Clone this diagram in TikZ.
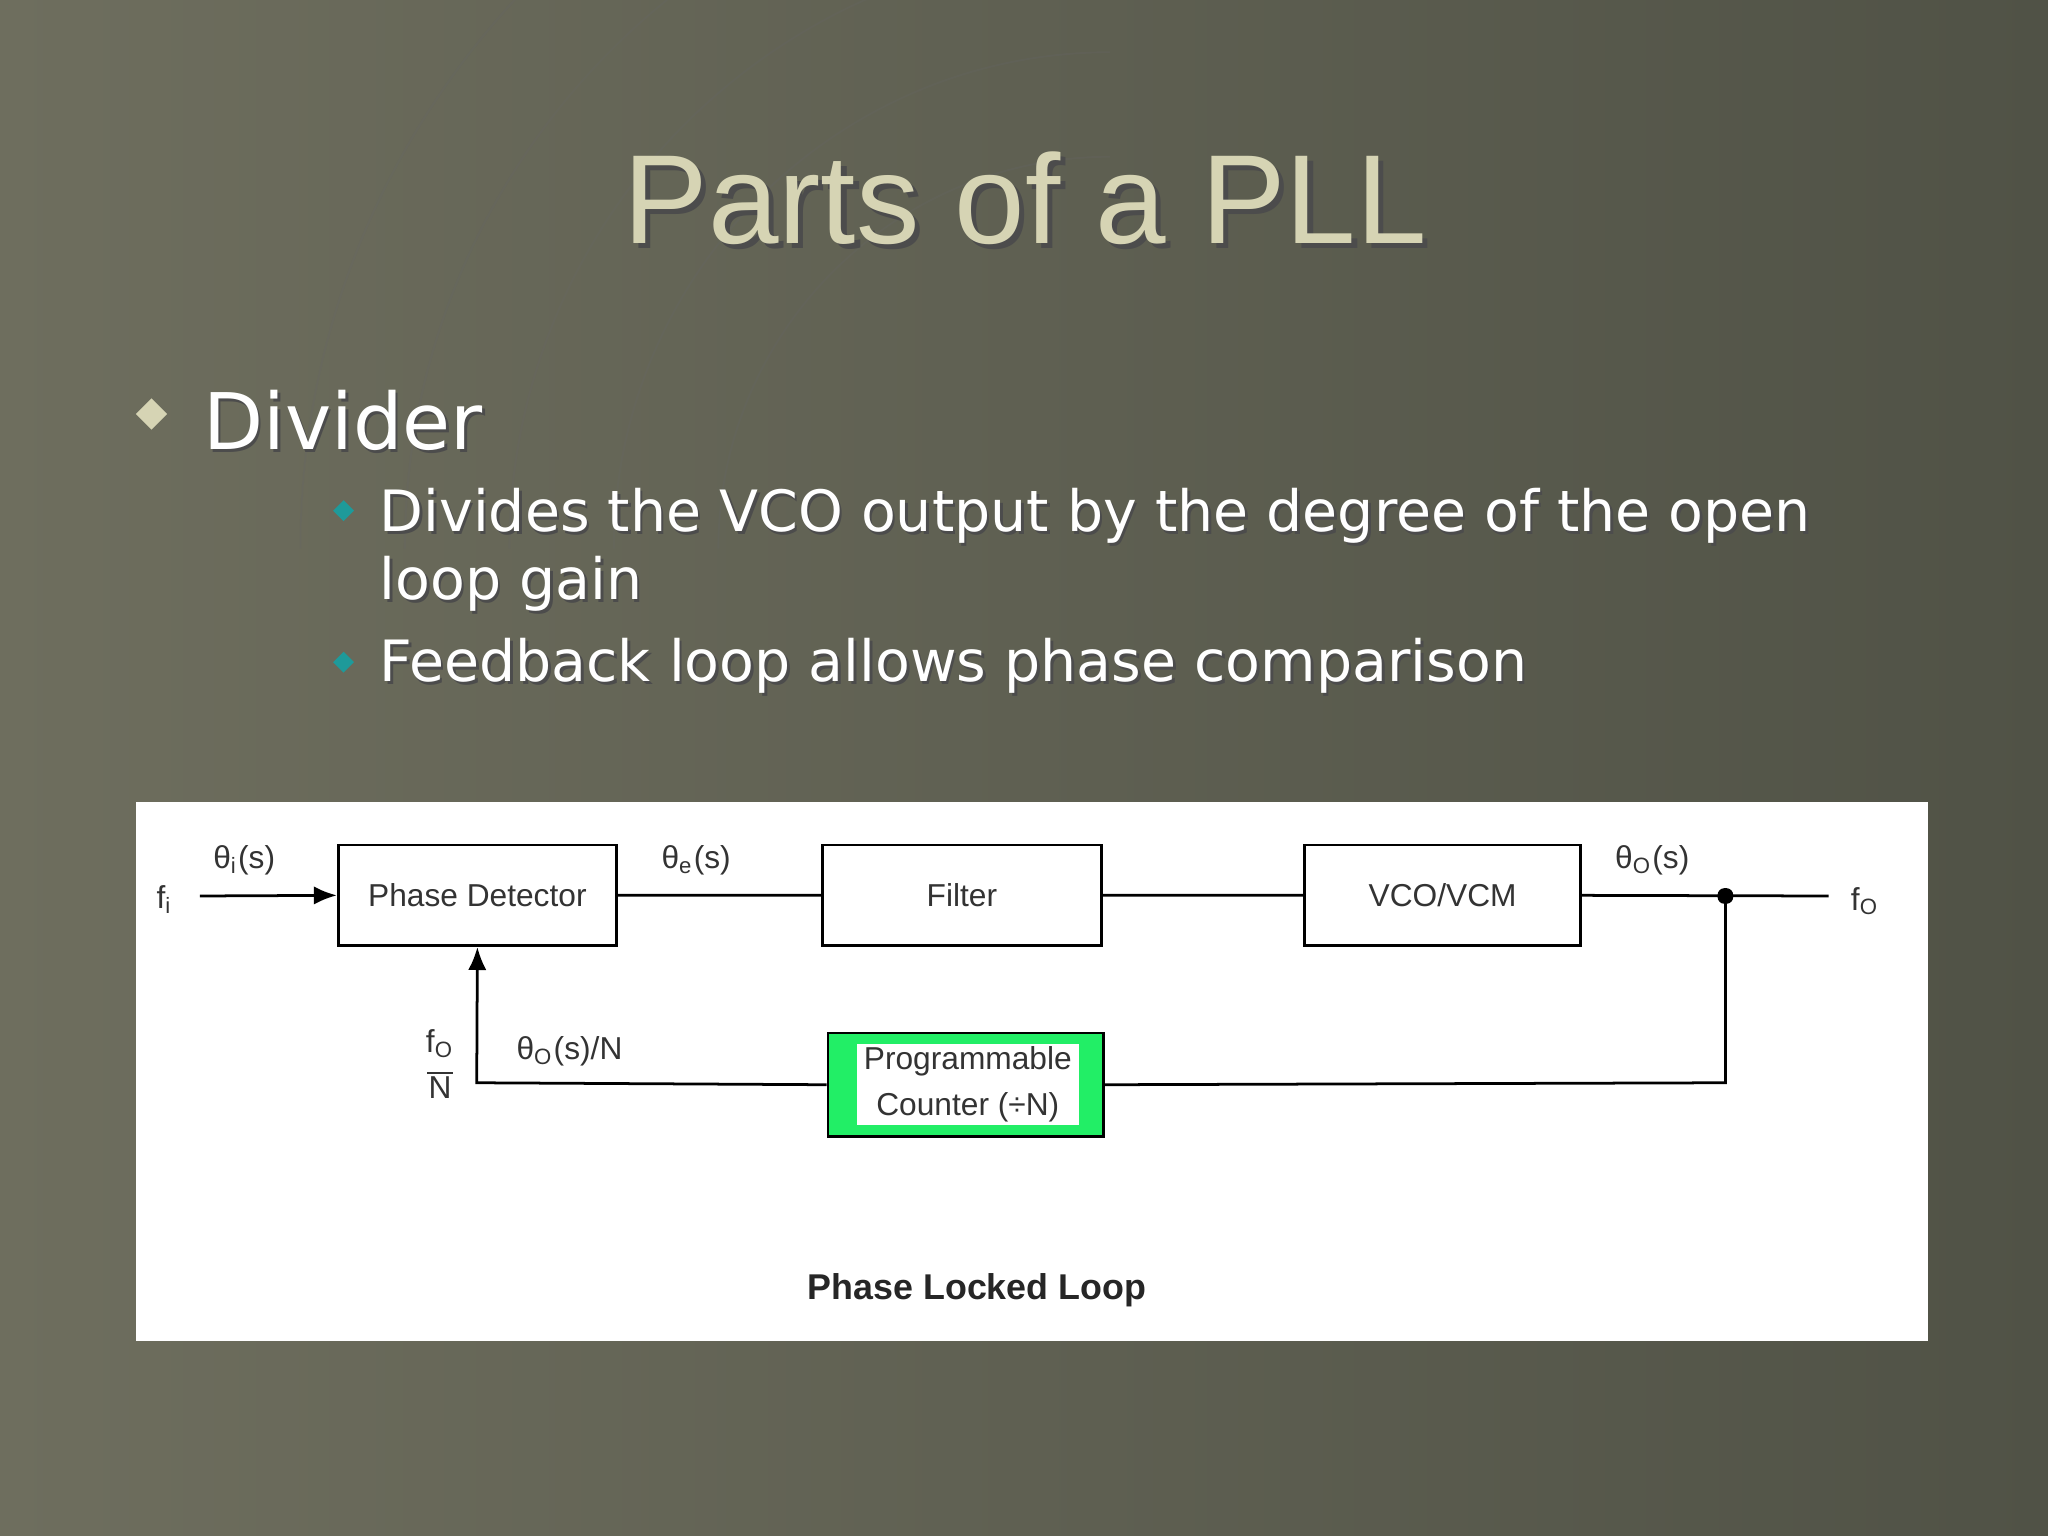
\documentclass[tikz,border=0pt]{standalone}
\usepackage{fontspec}
\setmainfont{Liberation Sans}
\newfontfamily\verd{DejaVu Sans}
\usetikzlibrary{arrows.meta,shadings,calc}
\definecolor{bgA}{HTML}{6E6E5E}
\definecolor{bgB}{HTML}{505246}
\definecolor{titlec}{HTML}{D6D4B4}
\definecolor{bulc}{HTML}{1E9A9A}
\definecolor{grn}{HTML}{22EE66}
\tikzset{blk/.style={draw=black,line width=0.6pt,minimum width=2.13cm,minimum height=0.77cm,inner sep=0pt,font=\fontsize{6.9}{8.5}\selectfont,text=black!80},
 wire/.style={line width=0.6pt,black},
 lbl/.style={font=\fontsize{6.9}{8.5}\selectfont,text=black!80,inner sep=0pt}}
\begin{document}
\begin{tikzpicture}[x=0.01cm,y=-0.01cm]
\useasboundingbox (0,0) rectangle (1568,1176);
\shade[left color=bgA,right color=bgB] (0,0) rectangle (1568,1176);
\foreach \r in {300,380,460,540,620}{\draw[black!60,opacity=0.25] (850,420) ++(180:\r) arc[start angle=180,end angle=270,radius=\r];}
% title
\node[text=black!70] at (789,156) {\fontsize{27.6}{34}\selectfont Parts of a PLL};
\node[text=titlec] (title) at (785,152) {\fontsize{27.6}{34}\selectfont Parts of a PLL};
% bullets
\node[text=black!70,anchor=west,inner sep=0pt] at (157,324) {\verd\fontsize{17}{20}\selectfont Divider};
\node[text=white,anchor=west,inner sep=0pt] (b1) at (155,322) {\verd\fontsize{17}{20}\selectfont Divider};
\fill[titlec] (116,305) -- (128,317) -- (116,329) -- (104,317) -- cycle;
\fill[bulc] (263,383) -- (271,391) -- (263,399) -- (255,391) -- cycle;
\fill[bulc] (263,499) -- (271,507) -- (263,515) -- (255,507) -- cycle;
\begin{scope}[every node/.style={anchor=west,inner sep=0pt,align=left,font=\verd\fontsize{12.4}{14.8}\selectfont}]
\node[text=black!70] at (292,423) {Divides the VCO output by the degree of the open\\loop gain};
\node[text=white] (b2) at (290,421) {Divides the VCO output by the degree of the open\\loop gain};
\node[text=black!70] at (292,512) {Feedback loop allows phase comparison};
\node[text=white] (b3) at (290,510) {Feedback loop allows phase comparison};
\end{scope}
% diagram
\fill[white] (104,614) rectangle (1476,1027);
\node[blk] (pd) at (365.5,685.5) {Phase Detector};
\node[blk] (fil) at (736.5,685.5) {Filter};
\node[blk,minimum width=2.11cm] (vco) at (1104.5,685.5) {VCO/VCM};
\node[draw=black,line width=0.6pt,fill=grn,minimum width=2.11cm,minimum height=0.79cm,inner sep=0pt] (pc) at (739.5,830.5) {};
\node[fill=white,minimum width=1.7cm,minimum height=0.62cm,inner sep=0pt,align=center,font=\fontsize{6.9}{10}\selectfont,text=black!80] at (741,830.5) {Programmable\\Counter (÷N)};
\node[lbl] (fi) at (126,689) {f\textsubscript{i}};
\coordinate (fin) at (153,686);
\coordinate (fout) at (1400,686);
\node[lbl] (fo) at (1428,690) {f\textsubscript{O}};
\coordinate (dot) at (1321,686);
\coordinate (cr) at (1321,829);
\coordinate (cl) at (365,829);
\draw[wire,-{Latex[length=5pt,width=4pt]}] (fin) -- (pd.west);
\draw[wire] (pd) -- (fil) (fil) -- (vco) (vco.east) -- (fout);
\fill[rounded corners=1.5pt] ($(dot)+(-6,-6)$) rectangle ($(dot)+(6,6)$);
\draw[wire] (dot) -- (cr) -- (pc.east);
\draw[wire,-{Latex[length=5pt,width=4pt]}] (pc.west) -- (cl) -- (pd.south);
\node[lbl] at (187,659) {θ\textsubscript{i}(s)};
\node[lbl] at (533,659) {θ\textsubscript{e}(s)};
\node[lbl] at (1265,659) {θ\textsubscript{O}(s)};
\node[lbl] at (436,805) {θ\textsubscript{O}(s)/N};
\node[lbl,align=center] at (337,815) {f\textsubscript{O}\\[-4pt]\rule{0.2cm}{0.4pt}\\[-3pt]N};
\node[font=\bfseries\fontsize{7.8}{10}\selectfont,text=black!85] at (748,988) {Phase Locked Loop};
\end{tikzpicture}
\end{document}
